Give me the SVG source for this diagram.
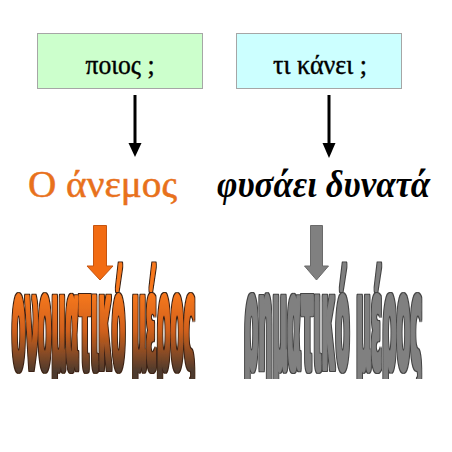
<svg xmlns="http://www.w3.org/2000/svg" width="452" height="452" viewBox="0 0 452 452">
<style>
.box{stroke:#a6a6a6;stroke-width:1}
.q{font-family:"Liberation Serif","DejaVu Serif","Times New Roman",serif;font-size:27px;fill:#000;stroke:#000;stroke-width:0.4;text-anchor:middle}
.conn{stroke:#000;stroke-width:3;fill:none}
.head{fill:#000}
.wa{font-family:"DejaVu Sans Condensed","DejaVu Sans",sans-serif;font-weight:bold;font-size:30px;stroke-width:4.5;stroke-linejoin:round}
</style>
<defs>
<linearGradient id="gOr" x1="0" y1="0" x2="0" y2="1">
<stop offset="0.3" stop-color="#f7781e"/>
<stop offset="0.55" stop-color="#d0601a"/>
<stop offset="0.82" stop-color="#4e3a2e"/>
</linearGradient>
<filter id="outBr" x="-5%" y="-5%" width="110%" height="110%">
<feMorphology in="SourceAlpha" operator="dilate" radius="1" result="d"/>
<feFlood flood-color="#3d2412"/>
<feComposite in2="d" operator="in" result="o"/>
<feMerge><feMergeNode in="o"/><feMergeNode in="SourceGraphic"/></feMerge>
</filter>
<filter id="outGr" x="-5%" y="-5%" width="110%" height="110%">
<feMorphology in="SourceAlpha" operator="dilate" radius="1" result="d"/>
<feFlood flood-color="#454545"/>
<feComposite in2="d" operator="in" result="o"/>
<feMerge><feMergeNode in="o"/><feMergeNode in="SourceGraphic"/></feMerge>
</filter>
<clipPath id="clipL"><rect x="0" y="240" width="226" height="139"/></clipPath>
<clipPath id="clipR"><rect x="226" y="240" width="226" height="139"/></clipPath>
</defs>
<rect width="452" height="452" fill="#fff"/>

<g id="box-poios">
<rect class="box" x="37.5" y="33.5" width="165" height="55" fill="#ccffcc"/>
<text class="q" x="120" y="74" textLength="69" lengthAdjust="spacingAndGlyphs">ποιος ;</text>
</g>
<g id="box-ti-kanei">
<rect class="box" x="236.5" y="33.5" width="165" height="55" fill="#ccffff"/>
<text class="q" x="320" y="74" textLength="94" lengthAdjust="spacingAndGlyphs">τι κάνει ;</text>
</g>

<g id="connectors">
<line class="conn" x1="135" y1="95" x2="135" y2="146"/>
<polygon class="head" points="128.5,143 141.5,143 135,157"/>
<line class="conn" x1="329" y1="95" x2="329" y2="146"/>
<polygon class="head" points="322.5,143 335.5,143 329,158"/>
<polygon points="93.5,225.5 106.5,225.5 106.5,266 113,266 100,280 87,266 93.5,266" fill="#f26b12" stroke="#c55410" stroke-width="1"/>
<polygon points="310.5,225.5 322.5,225.5 322.5,266 328.5,266 316.5,280 304.5,266 310.5,266" fill="#808080" stroke="#6a6a6a" stroke-width="1"/>
</g>

<g id="subject">
<text x="28" y="197" font-family="'Liberation Serif','DejaVu Serif',serif" font-size="37" fill="#e8711c" stroke="#e8711c" stroke-width="0.5" textLength="149" lengthAdjust="spacingAndGlyphs">Ο άνεμος</text>
</g>
<g id="predicate">
<text x="217" y="197" font-family="'Liberation Serif','DejaVu Serif',serif" font-size="38" font-weight="bold" font-style="italic" fill="#000" textLength="213" lengthAdjust="spacingAndGlyphs">φυσάει δυνατά</text>
</g>

<g id="onomatiko-meros" clip-path="url(#clipL)">
<g filter="url(#outBr)">
<text class="wa" transform="translate(12,368) scale(1,4.3)" textLength="183" lengthAdjust="spacingAndGlyphs" fill="url(#gOr)" stroke="url(#gOr)" vector-effect="non-scaling-stroke">ονοματικό μέρος</text>
</g>
</g>
<g id="rimatiko-meros" clip-path="url(#clipR)">
<g filter="url(#outGr)">
<text class="wa" transform="translate(244,368) scale(1,4.3)" textLength="178" lengthAdjust="spacingAndGlyphs" fill="#808080" stroke="#808080" vector-effect="non-scaling-stroke">ρηματικό μέρος</text>
</g>
</g>
</svg>
